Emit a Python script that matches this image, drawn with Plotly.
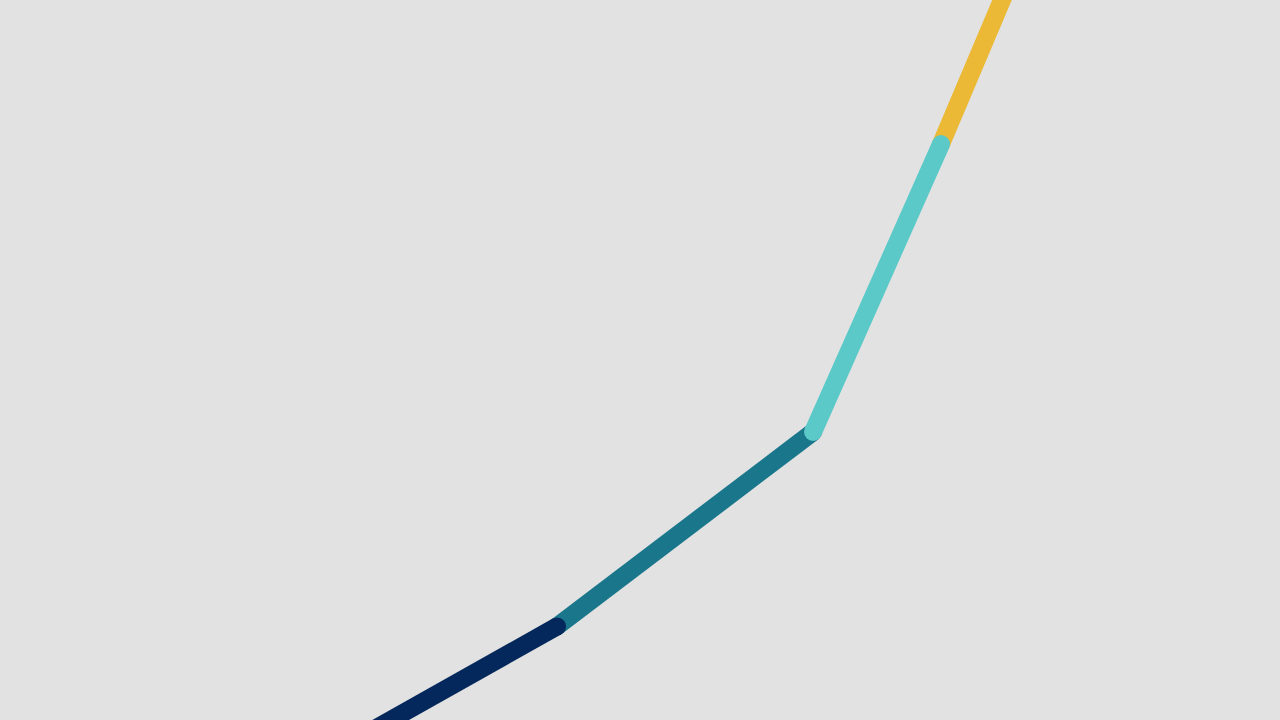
import plotly.graph_objects as go

# Data (abstract units)
x_vals = [0, 2, 4, 5, 6]
y_vals = [-0.7, 1.3, 4.0, 8.0, 12.2]
segment_colors = ["#05285c", "#1a778b", "#5cc9c9", "#ebb935"]
draw_order = [1, 0, 3, 2]

fig = go.Figure()
for i in draw_order:
    fig.add_trace(go.Scatter(
        x=x_vals[i:i + 2], y=y_vals[i:i + 2],
        mode="lines+markers",
        line=dict(color=segment_colors[i], width=18),
        marker=dict(color=segment_colors[i], size=18, line=dict(width=0)),
        hoverinfo="skip", showlegend=False, cliponaxis=True,
    ))

fig.update_layout(
    width=1280, height=720,
    margin=dict(l=0, r=0, t=0, b=0),
    paper_bgcolor="#e2e2e2", plot_bgcolor="#e2e2e2",
    xaxis=dict(range=[-2.352, 7.648], visible=False, fixedrange=True),
    yaxis=dict(range=[0, 10], visible=False, fixedrange=True),
)
fig.write_html(
    "out.html",
    config={"displayModeBar": False},
    post_script="document.body.style.margin='0';document.body.style.overflow='hidden';document.body.style.background='#e2e2e2';",
)
